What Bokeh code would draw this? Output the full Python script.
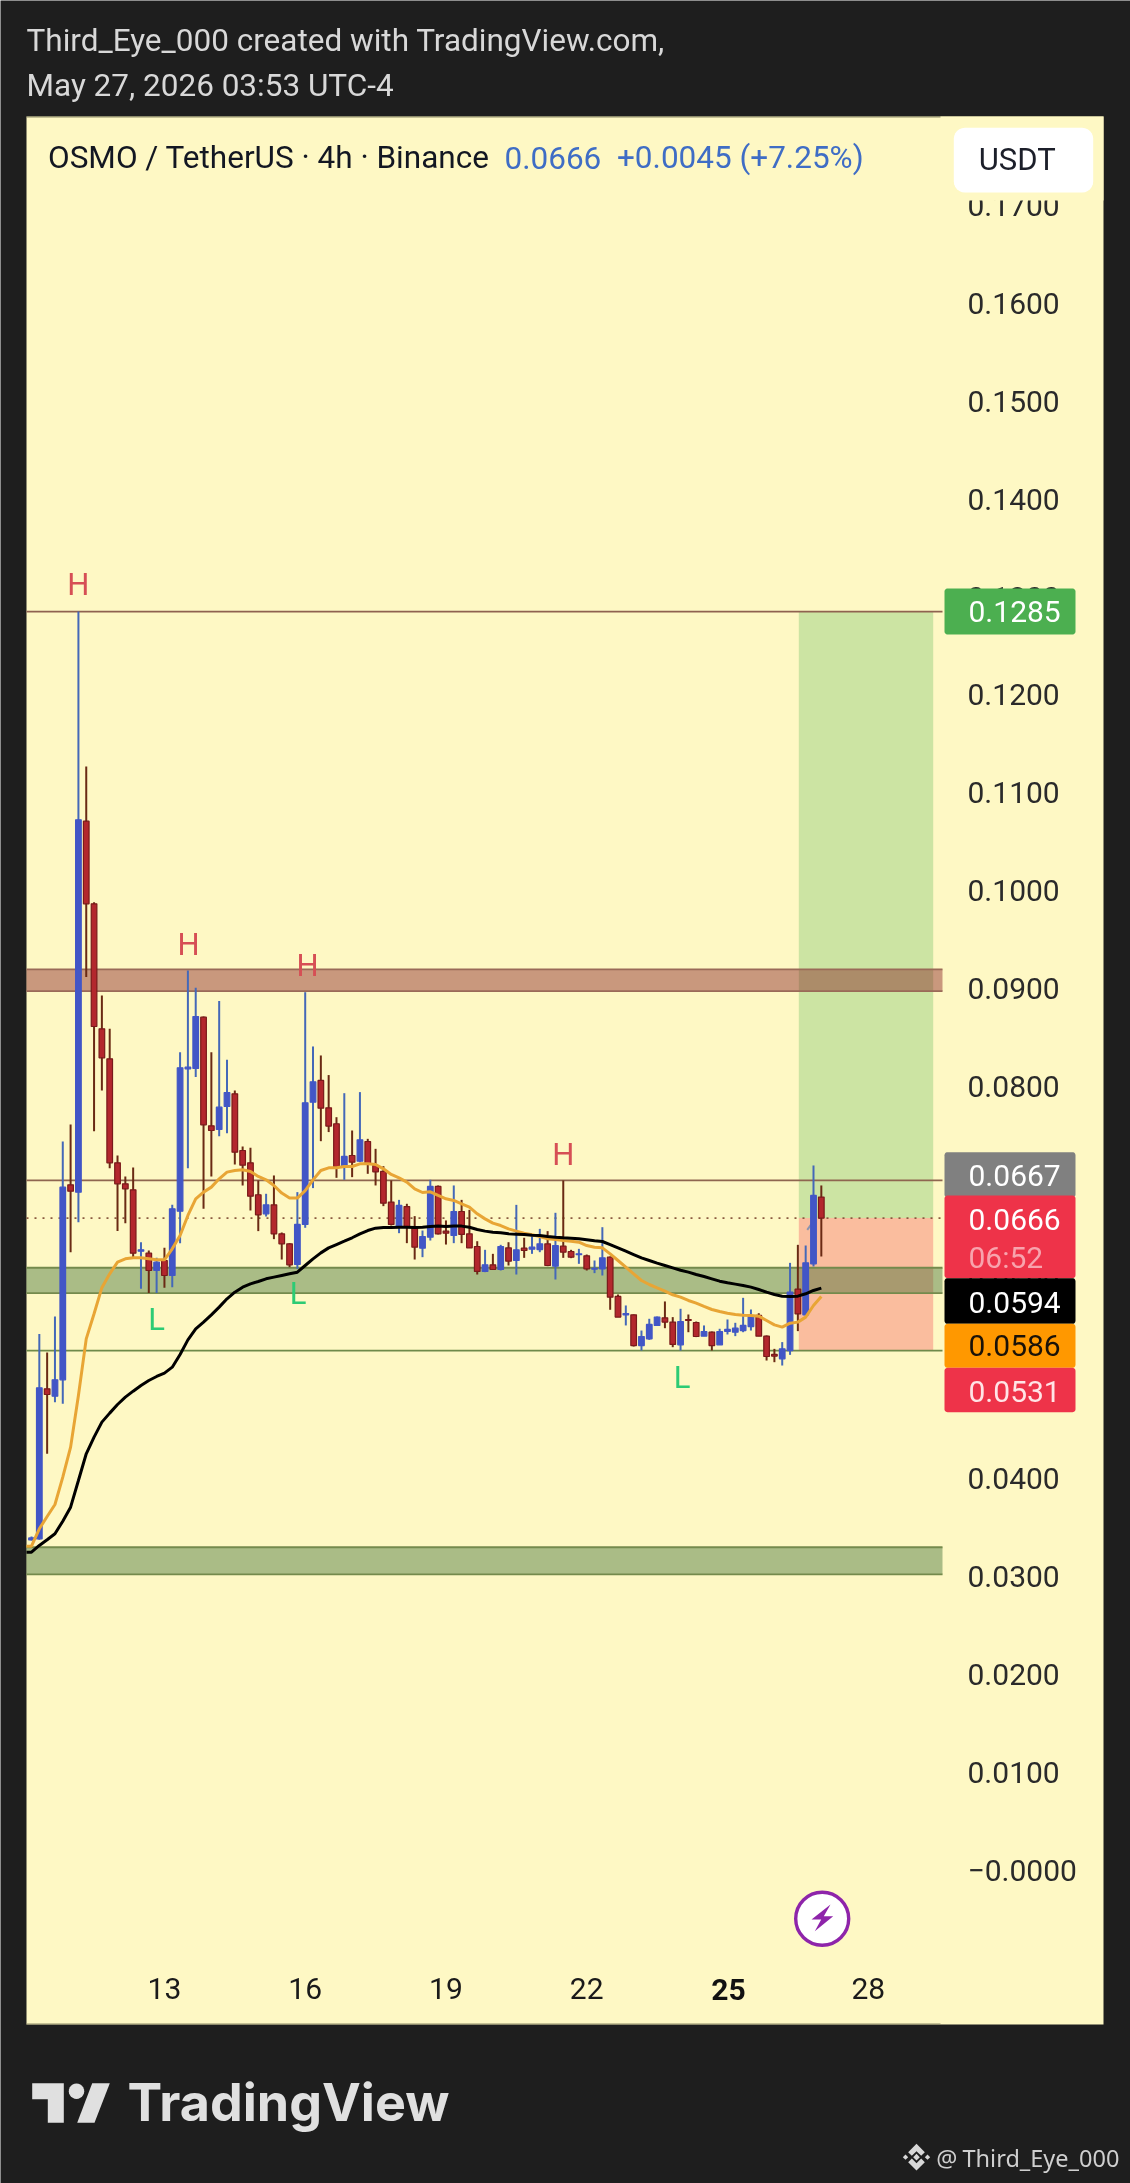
import numpy as np
from bokeh.embed import file_html
from bokeh.resources import INLINE
from bokeh.plotting import figure
from bokeh.core.properties import value
from bokeh.models import Range1d, FixedTicker, LinearAxis, NumeralTickFormatter

# ---- data (prices) ----
opens = [.03375,.03386,.04917,.04842,.05009,.07000,.06925,.10712,.09868,.08592,.08286,.07224,.07010,.06948,.06322,.06302,.06125,.06227,.06074,.06731,
.08184,.08187,.08711,.07602,.07565,.07799,.07929,.07350,.07224,.06898,.06704,.06795,.06499,.06397,.06186,.06595,.07843,.08065,.07786,.07623,
.07180,.07299,.07241,.07442,.07197,.07136,.06823,.06578,.06778,.06561,.06353,.06465,.06983,.06527,.06482,.06727,.06499,.06370,.06115,.06183,
.06135,.06356,.06227,.06353,.06343,.06339,.06397,.06169,.06373,.06319,.06288,.06275,.06139,.06142,.06261,.05860,.05672,.05672,.05359,.05427,
.05564,.05642,.05598,.05366,.05625,.05594,.05455,.05495,.05366,.05502,.05495,.05512,.05553,.05666,.05455,.05268,.05223,.05308,.05934,.05672,
.06193,.06874]
highs = [.03410,.05478,.05288,.05655,.07442,.07615,.12852,.11270,.09885,.08932,.08592,.07299,.07085,.07177,.06414,.06329,.06254,.06356,.06795,.08354,
.09188,.09011,.08718,.08354,.08875,.08276,.07963,.07391,.07377,.07044,.06908,.07095,.06513,.06404,.06925,.08966,.08412,.08320,.08120,.07690,
.07935,.07554,.07946,.07469,.07367,.07190,.07044,.06846,.06806,.06680,.06533,.07051,.06993,.06636,.06993,.06846,.06744,.06424,.06336,.06295,
.06387,.06414,.06795,.06459,.06472,.06550,.06527,.06714,.07044,.06336,.06346,.06288,.06227,.06567,.06268,.05880,.05768,.05676,.05512,.05632,
.05655,.05809,.05649,.05734,.05676,.05604,.05564,.05502,.05530,.05625,.05591,.05846,.05727,.05689,.05462,.05325,.05394,.06203,.06387,.06380,
.07197,.06993]
lows = [.03369,.03376,.04254,.04781,.04764,.06312,.06618,.09120,.07547,.07962,.07170,.06527,.06608,.06244,.05938,.05894,.05894,.05948,.05955,.06404,
.07170,.08099,.06755,.07085,.07496,.07527,.07207,.06993,.06738,.06527,.06676,.06445,.06237,.06159,.06142,.06561,.06966,.07445,.07538,.07071,
.07051,.07078,.07231,.07112,.06993,.06782,.06584,.06506,.06404,.06237,.06261,.06431,.06493,.06390,.06404,.06404,.06356,.06084,.06108,.06135,
.06125,.06176,.06084,.06254,.06295,.06312,.06169,.06033,.06254,.06251,.06193,.06125,.06098,.06074,.05724,.05649,.05564,.05349,.05308,.05417,
.05564,.05536,.05342,.05308,.05495,.05445,.05455,.05308,.05366,.05472,.05455,.05495,.05512,.05455,.05206,.05189,.05155,.05264,.05506,.05666,
.06166,.06268]
closes = [.03395,.04927,.04859,.05009,.06976,.06935,.10726,.09868,.08616,.08296,.07224,.07010,.06959,.06302,.06336,.06125,.06210,.06074,.06755,.08194,
.08201,.08718,.07612,.07554,.07792,.07942,.07333,.07200,.06884,.06693,.06795,.06499,.06397,.06183,.06595,.07837,.08051,.07782,.07599,.07180,
.07289,.07231,.07459,.07207,.07132,.06812,.06595,.06789,.06567,.06363,.06472,.06983,.06499,.06506,.06727,.06493,.06356,.06115,.06183,.06135,
.06370,.06220,.06336,.06329,.06363,.06397,.06176,.06380,.06312,.06261,.06295,.06142,.06146,.06254,.05853,.05649,.05686,.05359,.05451,.05574,
.05649,.05598,.05370,.05604,.05615,.05451,.05502,.05359,.05502,.05523,.05536,.05564,.05655,.05455,.05247,.05251,.05325,.05904,.05683,.06203,
.06891,.06660]
ma_orange = [.03311,.03488,.03614,.03736,.04015,.04322,.04849,.05427,.05683,.05950,.06091,.06210,.06244,.06254,.06254,.06244,.06234,.06234,.06346,.06482,
.06687,.06857,.06925,.06976,.07061,.07129,.07146,.07153,.07136,.07085,.07051,.06993,.06915,.06864,.06864,.06940,.07050,.07146,.07173,.07173,
.07187,.07187,.07214,.07214,.07207,.07163,.07105,.07071,.07027,.06959,.06921,.06928,.06891,.06857,.06840,.06806,.06772,.06704,.06652,.06608,
.06584,.06550,.06527,.06506,.06489,.06472,.06448,.06441,.06431,.06424,.06414,.06380,.06363,.06356,.06295,.06227,.06159,.06091,.06023,.05982,
.05948,.05914,.05877,.05853,.05819,.05792,.05758,.05727,.05706,.05689,.05676,.05669,.05666,.05659,.05615,.05570,.05547,.05587,.05598,.05649,
.05768,.05860]
ma_black = [.03250,.03318,.03376,.03437,.03566,.03709,.03981,.04254,.04424,.04577,.04669,.04757,.04832,.04893,.04951,.05002,.05043,.05077,.05138,.05268,
.05417,.05530,.05598,.05672,.05751,.05836,.05904,.05955,.05989,.06013,.06040,.06057,.06074,.06091,.06108,.06176,.06244,.06305,.06356,.06390,
.06424,.06459,.06499,.06533,.06557,.06564,.06564,.06567,.06567,.06564,.06567,.06574,.06578,.06574,.06578,.06578,.06567,.06544,.06527,.06516,
.06510,.06499,.06496,.06493,.06486,.06482,.06472,.06465,.06459,.06455,.06448,.06438,.06428,.06421,.06390,.06356,.06322,.06288,.06254,.06227,
.06200,.06176,.06152,.06128,.06108,.06084,.06064,.06040,.06016,.05999,.05986,.05972,.05955,.05931,.05904,.05880,.05863,.05860,.05863,.05887,
.05921,.05945]

price_ticks = [0,.01,.02,.03,.04,.05,.06,.07,.08,.09,.10,.11,.12,.13,.14,.15,.16,.17]
day_labels = ["13","16","19","22","25","28"]
day_index = [17,35,53,71,89,107]

level_lines = [.1285,.07044,.05308]
level_colors = ["#8f6250","#8f6650","#6f8a4a"]
band_tops = [.09198,.06153,.03300]
band_bottoms = [.08976,.05893,.03022]
band_fills = ["#81121a","#386a2f","#386a2f"]
band_edges = ["#9a6a58","#748a4c","#748a4c"]
last_price = .0666
pos_entry = .0666
pos_target = .1285
pos_stop = .05308
swing_hi_x = [6,20.1,35.3,68]
swing_hi_y = [.1313,.0945,.09238,.07309]
swing_lo_x = [16,34.1,83.2]
swing_lo_y = [.05625,.05890,.05033]

# ---- pixel geometry ----
W, H = 1130, 2183
X0, DX, Y0, K = 31.0, 7.82, 1870.0, 9796.0
def ix(px): return (np.asarray(px, float)-X0)/DX
def iy(py): return (Y0-np.asarray(py, float))/K

PL, PR, PT, PB = 26, 1103, 116, 2024
DARK, CREAM = "#1e1e1e", "#fef8c4"
FONT = "Roboto"
fv = value(FONT)

p = figure(width=W, height=H, frame_width=W, frame_height=H,
           min_border_left=0, min_border_right=0, min_border_top=0, min_border_bottom=0,
           x_range=Range1d(float(ix(0)), float(ix(W))), y_range=Range1d(float(iy(H)), float(iy(0))),
           output_backend="svg", toolbar_location=None, x_axis_location=None, y_axis_location=None,
           background_fill_color=DARK, border_fill_color=DARK, outline_line_color=None)
p.grid.visible = False
p.styles = {"position": "fixed", "left": "0px", "top": "0px"}

# axes, pulled in over the chart
ya = LinearAxis(ticker=FixedTicker(ticks=price_ticks), formatter=NumeralTickFormatter(format="0.0000"),
                major_label_overrides={0: "\u22120.0000"},
                major_tick_line_color=None, minor_tick_line_color=None, axis_line_color=None,
                major_tick_out=0, major_tick_in=0, major_label_standoff=967-W,
                major_label_text_font=FONT, major_label_text_font_size="30px", major_label_text_color="#2a2a2a")
p.add_layout(ya, "right")
xa = LinearAxis(ticker=FixedTicker(ticks=day_index),
                major_label_overrides={**{i: l for i, l in zip(day_index, day_labels)}, 89: ""},
                major_tick_line_color=None, minor_tick_line_color=None, axis_line_color=None,
                major_tick_out=0, major_tick_in=0, major_label_standoff=1977-H,
                major_label_text_font=FONT, major_label_text_font_size="30px", major_label_text_color="#1a1a1a")
p.add_layout(xa, "below")

# panel
p.quad(left=[float(ix(PL))], right=[float(ix(PR))], top=[float(iy(PT))], bottom=[float(iy(PB))], fill_color=CREAM, line_color=None, level="underlay")

# position tool
xz0, xz1 = float(ix(798.3)), float(ix(932.7))
p.quad(left=[xz0], right=[xz1], top=[pos_target], bottom=[pos_entry], fill_color="#4caf50", fill_alpha=.28, line_color=None)
p.quad(left=[xz0], right=[xz1], top=[pos_entry], bottom=[pos_stop], fill_color="#f23645", fill_alpha=.30, line_color=None)

# bands and levels
xl0, xl1 = float(ix(PL)), float(ix(942))
p.quad(left=xl0, right=xl1, top=band_tops, bottom=band_bottoms, fill_color=band_fills, fill_alpha=.42, line_color=None)
p.segment(x0=[xl0]*6, x1=[xl1]*6, y0=band_tops+band_bottoms, y1=band_tops+band_bottoms, line_color=band_edges*2, line_width=1.8)
p.segment(x0=[xl0]*3, x1=[xl1]*3, y0=level_lines, y1=level_lines, line_color=level_colors, line_width=1.8)
p.line([xl0, xl1], [last_price]*2, line_color="#8a5a40", line_width=1.6, line_dash="2 6")
p.segment(x0=[99.2], x1=[100.2], y0=[.0654], y1=[.0665], line_color="#8a94b0", line_width=2)

# candles
idx = np.arange(len(opens))
up = [c >= o for o, c in zip(opens, closes)]
WBLUE, WRED, BBLUE, BRED, EDGE = "#4468b8", "#6a2a14", "#4256c6", "#b3272d", "#7a1a1a"
p.segment(x0=idx, x1=idx, y0=lows, y1=highs, line_color=[WBLUE if u else WRED for u in up], line_width=2)
p.vbar(x=idx, width=.72, top=[max(o, c) for o, c in zip(opens, closes)], bottom=[min(o, c) for o, c in zip(opens, closes)],
       fill_color=[BBLUE if u else BRED for u in up], line_color=[BBLUE if u else EDGE for u in up], line_width=1.2)

# moving averages
xs_ma = [xl0] + list(idx)
p.line(xs_ma, [ma_orange[0]] + ma_orange, line_color="#e8a535", line_width=3)
p.line(xs_ma, [ma_black[0]] + ma_black, line_color="#000000", line_width=3)

# swing marks
p.text(x=swing_hi_x, y=swing_hi_y, text=["H"]*4, text_font=fv, text_font_size="31px", text_color="#d64f55", text_align="center", text_baseline="middle")
p.text(x=swing_lo_x, y=swing_lo_y, text=["L"]*3, text_font=fv, text_font_size="31px", text_color="#2ccb74", text_align="center", text_baseline="middle")

def round_box(x0, x1, y0, y1, r, color):
    a = np.linspace(0, np.pi/2, 7)
    xs = np.r_[x1-r+r*np.sin(a), x1-r+r*np.cos(a), x0+r-r*np.sin(a), x0+r-r*np.cos(a)]
    ys = np.r_[y0+r-r*np.cos(a), y1-r+r*np.sin(a), y1-r+r*np.cos(a), y0+r-r*np.sin(a)]
    p.patch(ix(xs), iy(ys), fill_color=color, line_color=None, level="overlay")

def put_text(x, y, s, color, anchor="left", size="30px", font=FONT, style="normal"):
    p.text(x=[float(ix(x))], y=[float(iy(y))], text=[s], text_font=value(font), text_font_size=size, text_font_style=style,
           text_color=color, text_align=anchor, text_baseline="middle", level="overlay")

def poly(xs, ys, color):
    p.patch(ix(xs), iy(ys), fill_color=color, line_color=None, level="overlay")

# mask above the top tick label, and USDT button
p.quad(left=[float(ix(940))], right=[float(ix(PR))], top=[float(iy(PT))], bottom=[float(iy(200))], fill_color=CREAM, line_color=None, level="overlay")
round_box(953.3, 1092.7, 127.3, 192, 11, "#ffffff")
put_text(1016.7, 159, "USDT", "#1c1f2a", "center", size="31px")

# price tags
TX0, TX1, TXT = 944, 1075, 968
round_box(TX0, TX1, 588, 634, 3, "#4caf50")
put_text(TXT, 611, "0.1285", "#ffffff")
round_box(TX0, TX1, 1151.7, 1197, 3, "#808080")
put_text(TXT, 1175, "0.0667", "#ffffff")
round_box(TX0, TX1, 1195, 1277.7, 3, "#ee3349")
put_text(TXT, 1219, "0.0666", "#ffffff")
put_text(TXT, 1257, "06:52", "#f8a3ad")
round_box(TX0, TX1, 1277.7, 1323.3, 3, "#000000")
put_text(TXT, 1301.5, "0.0594", "#ffffff")
round_box(TX0, TX1, 1323.3, 1367.3, 3, "#ff9800")
put_text(TXT, 1345, "0.0586", "#1a1208")
round_box(TX0, TX1, 1367.3, 1411.7, 3, "#ee3349")
put_text(TXT, 1390.5, "0.0531", "#ffe4e6")

# legend line
put_text(47.5, 157, "OSMO / TetherUS \u00b7 4h \u00b7 Binance", "#131722", size="31.5px")
put_text(504, 157, "0.0666", "#3f6dc5", size="31.5px")
put_text(616.5, 157, "+0.0045 (+7.25%)", "#3f6dc5", size="31.5px")

# bold day label
put_text(float(X0+89*DX)+1, 1989, "25", "#111111", "center", style="bold")

# lightning badge
p.scatter(x=[float(ix(821.7))], y=[float(iy(1918.3))], size=53, marker="circle", fill_color="#ffffff", line_color="#8e24aa", line_width=3.4)
p.patch(ix([830, 811, 820.7, 814.3, 832.7, 823.3]), iy([1904, 1919, 1919, 1930.7, 1915.7, 1915.7]), fill_color="#8e24aa", line_color=None)

# thin frame edges
p.segment(x0=[float(ix(PL))], x1=[float(ix(PR))], y0=[float(iy(116.5))], y1=[float(iy(116.5))], line_color="#8c8a66", line_width=1)
p.segment(x0=[xl0], x1=[float(ix(940))], y0=[float(iy(2023.5))], y1=[float(iy(2023.5))], line_color="#8c8a66", line_width=1)

# texts outside the panel
put_text(26, 40, "Third_Eye_000 created with TradingView.com,", "#d8d8d8", size="31.5px")
put_text(26, 85, "May 27, 2026 03:53 UTC-4", "#d8d8d8", size="31.5px")

# TradingView logo
LOGO = "#e0e0e0"
poly([31.7, 63.3, 63.3, 47.3, 47.3, 31.7], [2082.7, 2082.7, 2122.3, 2122.3, 2098.7, 2098.7], LOGO)
t = np.linspace(0, 2*np.pi, 24, endpoint=False)
poly(76+7.7*np.cos(t), 2090.7+7.7*np.sin(t), LOGO)
poly([91.7, 109.3, 94, 76.7], [2082.7, 2082.7, 2122.3, 2122.3], LOGO)
put_text(127, 2102, "TradingView", LOGO, size="52px", font="Inter", style="bold")

# signature
def sx(v): return 890+np.asarray(v, float)/3
def sy(v): return 2130+np.asarray(v, float)/3
for xs, ys in [([78,103,92,78,64,53],[40,65,76,62,76,65]), ([78,103,92,78,64,53],[120,95,84,98,84,95]),
               ([78,88,78,68],[70,80,90,80]), ([45,53,45,37],[72,80,88,80]), ([111,119,111,103],[72,80,88,80])]:
    poly(sx(xs), sy(ys), "#d8d8d8")
put_text(935.7, 2157, "@", "#cfcfcf", size="23.5px", font="Noto Sans")
put_text(962, 2157, "Third_Eye_000", "#cfcfcf", size="23.5px", font="Noto Sans")

open("out.html", "w").write(file_html(p, INLINE))
